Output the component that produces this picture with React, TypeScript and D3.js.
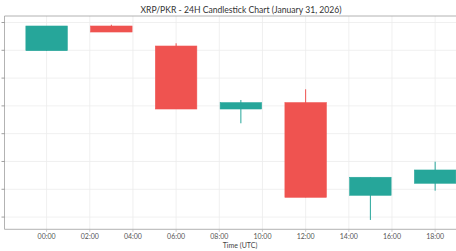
import React from "react";
import * as d3 from "d3";

const hours = [0, 3, 6, 9, 12, 15, 18];
const opens = [534.93, 539.37, 535.77, 524.44, 525.58, 508.92, 511.08];
const highs = [539.37, 539.6, 536.26, 526.06, 527.99, 512.16, 514.96];
const lows = [534.93, 538.29, 524.44, 521.87, 508.56, 504.48, 509.75];
const closes = [539.37, 538.29, 524.44, 525.58, 508.56, 512.16, 513.47];
const yTicks = [540, 535, 530, 525, 520, 515, 510, 505];
const xTickHours = [0, 2, 4, 6, 8, 10, 12, 14, 16, 18];
const title = "XRP/PKR - 24H Candlestick Chart (January 31, 2026)";
const xLabel = "Time (UTC)";

const W = 456;
const H = 251;
const HOUR = 3600 * 1000;
const base = Date.UTC(2026, 0, 31, 0, 0, 0);

export default function App() {
  const x = d3
    .scaleUtc()
    .domain([new Date(base - 1.95 * HOUR), new Date(base + 22.95 * HOUR)])
    .range([4.5, 542]);
  const y = d3.scaleLinear().domain([502.8, 541.17]).range([229.3, 16]);
  const fmt = d3.utcFormat("%H:%M");
  const up = "#26a69a";
  const down = "#ef5350";
  const candleW = x(new Date(base + 1.92 * HOUR)) - x(new Date(base));
  const font = "Lato, 'Open Sans', sans-serif";
  const [x0, x1] = x.range();
  const [yb, yt] = y.range();

  return (
    <svg
      width={W}
      height={H}
      style={{ position: "absolute", left: 0, top: 0, background: "#fff" }}
      fontFamily={font}
    >
      <rect x={0} y={0} width={W} height={H} fill="#fff" />
      <text x={241} y={12.5} textAnchor="middle" fontSize={8.6} fill="#333">
        {title}
      </text>
      {/* grid */}
      {yTicks.map((t) => (
        <line key={"gy" + t} x1={x0} x2={x1} y1={y(t)} y2={y(t)} stroke="#ececec" strokeWidth={0.8} />
      ))}
      {xTickHours.map((h) => {
        const xv = x(new Date(base + h * HOUR));
        return <line key={"gx" + h} x1={xv} x2={xv} y1={yt} y2={yb} stroke="#ececec" strokeWidth={0.8} />;
      })}
      {/* spines */}
      <line x1={x0} x2={x1} y1={yt} y2={yt} stroke="#a0a0a0" strokeWidth={0.8} />
      <line x1={x0} x2={x1} y1={yb} y2={yb} stroke="#a0a0a0" strokeWidth={0.8} />
      <line x1={x0} x2={x0} y1={yt} y2={yb} stroke="#a0a0a0" strokeWidth={0.8} />
      {/* y ticks (labels lie outside the cropped view) */}
      {yTicks.map((t) => (
        <line key={"ty" + t} x1={x0 - 3} x2={x0} y1={y(t)} y2={y(t)} stroke="#888" strokeWidth={0.8} />
      ))}
      {/* x ticks */}
      {xTickHours.map((h) => {
        const d = new Date(base + h * HOUR);
        const xv = x(d);
        return (
          <g key={"tx" + h}>
            <line x1={xv} x2={xv} y1={yb} y2={yb + 2.5} stroke="#bbb" strokeWidth={0.8} />
            <text x={xv} y={238.5} textAnchor="middle" fontSize={7} fill="#555">
              {fmt(d)}
            </text>
          </g>
        );
      })}
      <text x={240} y={248} textAnchor="middle" fontSize={7} fill="#444">
        {xLabel}
      </text>
      {/* candles */}
      {hours.map((h, i) => {
        const cx = x(new Date(base + h * HOUR));
        const o = opens[i];
        const c = closes[i];
        const col = c >= o ? up : down;
        const top = y(Math.max(o, c));
        const bot = y(Math.min(o, c));
        return (
          <g key={"c" + h}>
            <line x1={cx} x2={cx} y1={y(highs[i])} y2={y(lows[i])} stroke={col} strokeWidth={1} />
            <rect
              x={cx - candleW / 2}
              y={top}
              width={candleW}
              height={Math.max(1, bot - top)}
              fill={col}
              stroke={col}
              strokeWidth={0.6}
            />
          </g>
        );
      })}
    </svg>
  );
}
